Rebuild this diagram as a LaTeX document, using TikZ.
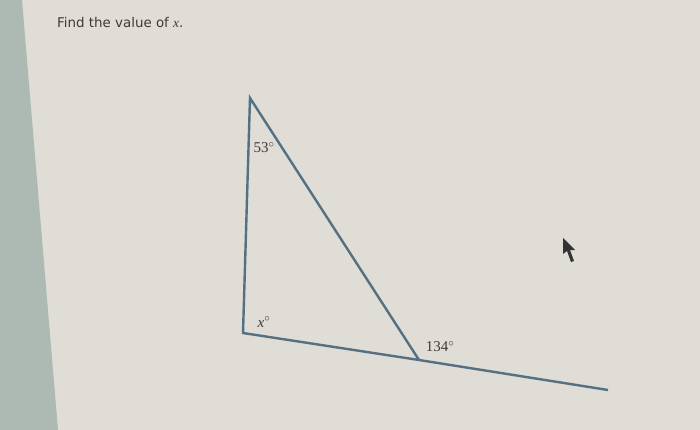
\documentclass[tikz,border=0pt]{standalone}
\usepackage{fontspec}
\setmainfont{Liberation Serif}
\newfontfamily\questfont{DejaVu Sans}
\usepackage{tikz}
\usetikzlibrary{positioning}
\usetikzlibrary{calc}
\definecolor{paper}{RGB}{223,221,213}
\definecolor{strip}{RGB}{172,186,179}
\definecolor{edge}{RGB}{84,112,130}
\definecolor{ink}{RGB}{62,58,60}
\tikzstyle{side} = [draw=edge, line width=2.4pt, line join=miter]
\tikzstyle{angle} = [text=ink, font=\fontsize{15}{17}\selectfont, inner sep=1pt]

\begin{document}
\begin{tikzpicture}[x=1pt, y=-1pt]

    % screen
    \fill[paper] (0,0) rectangle (700,430);
    \fill[strip] (0,0) -- (22,0) -- (58,430) -- (0,430) -- cycle;
    \useasboundingbox (0,0) rectangle (700,430);

    \node[anchor=west, text=ink, inner sep=0pt] (quest) at (57,23)
        {\questfont\fontsize{13.4}{16}\selectfont Find the value of \textit{\rmfamily x}.};

    \coordinate (top) at (250,98);
    \coordinate (bl) at (243,333);
    \coordinate (br) at (419,360);
    \coordinate (far) at (608,390);

    % triangle
    \draw[side] (br) -- (top) -- (bl) -- (br);
    % extended base
    \draw[side] (br) -- (far);

    \node[angle] (a53) at (264,148) {53$^\circ$};
    \node[angle] (ax) at (264,322) {\textit{x}$^\circ$};
    \node[angle] (a134) at (440,347) {134$^\circ$};

    % pointer
    \fill[black!80] (563,238) -- (563,254) -- (567,251) -- (571,262) -- (574,261) -- (570,250) -- (575,250) -- cycle;

\end{tikzpicture}
\end{document}
